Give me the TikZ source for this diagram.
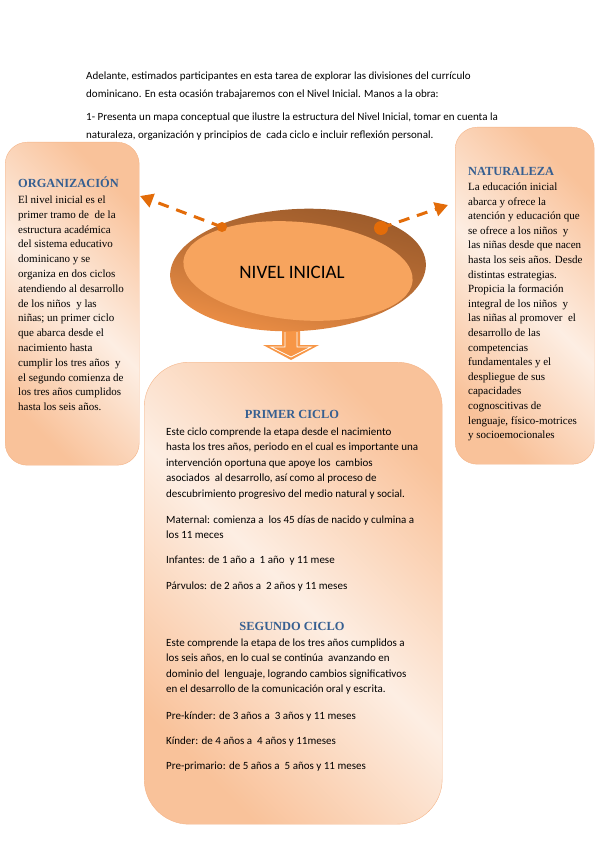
\documentclass[tikz,border=0pt]{standalone}
\usepackage{fontspec}
\setmainfont{Liberation Serif}
\newfontfamily\calib{Carlito}
\usetikzlibrary{arrows.meta,shapes.geometric,calc}
\definecolor{boxorange}{HTML}{F9C29A}
\definecolor{boxlight}{HTML}{FDEEE3}
\definecolor{boxedge}{HTML}{F4B488}
\definecolor{headblue}{HTML}{365F91}
\definecolor{arroworange}{HTML}{E36C09}
\definecolor{discfront}{HTML}{F7A45E}
\definecolor{rimdark}{HTML}{9C5B2B}
\definecolor{rimlight}{HTML}{EF9046}
\definecolor{blockorange}{HTML}{F79646}
\begin{document}
\begin{tikzpicture}[x=1pt,y=-1pt,
  box/.style={draw=boxedge,line width=0.4pt,top color=boxorange,bottom color=boxorange,middle color=boxlight,shading angle=-45,inner sep=0pt,anchor=north west},
  calbody/.style={font=\calib\fontsize{11}{13}\selectfont,inner sep=0pt,anchor=base west},
  serbody/.style={font=\fontsize{11}{13}\selectfont,inner sep=0pt,anchor=base west},
  headtext/.style={font=\bfseries\fontsize{12.4}{14}\selectfont,text=headblue,inner sep=0pt},
  dasharrow/.style={draw=arroworange,line width=3pt,dash pattern=on 11pt off 8pt,-{Triangle[length=13pt,width=14pt]}},
  blockarrow/.style={fill=blockorange,draw=none}
]
\useasboundingbox (0,0) rectangle (595,842);

% intro text
\node[calbody] (intro1) at (86,80) {Adelante, estimados participantes en esta tarea de explorar las divisiones del currículo};
\node[calbody] (intro2) at (86,97.5) {dominicano. En esta ocasión trabajaremos con el Nivel Inicial. Manos a la obra:};
\node[calbody] (task1) at (86,121) {1- Presenta un mapa conceptual que ilustre la estructura del Nivel Inicial, tomar en cuenta la};
\node[calbody] (task2) at (86,138.5) {naturaleza, organización y principios de\ \ cada ciclo e incluir reflexión personal.};

% boxes
\node[box,rounded corners=22pt,minimum width=134pt,minimum height=323pt] (org) at (5,142) {};
\node[box,rounded corners=22pt,minimum width=139pt,minimum height=337pt] (nat) at (455,127) {};
\node[box,rounded corners=45pt,minimum width=298pt,minimum height=462pt] (ciclo) at (144,362) {};

% block arrow down
\coordinate (dn) at (291,360);
\fill[blockarrow] (dn) -- ++(-28,-15) -- ++(19,0) -- ++(0,-27) -- ++(18,0) -- ++(0,27) -- ++(19,0) -- cycle;
\draw[white,line width=0.7pt] ($(dn)+(-6,-28)$) -- ($(dn)+(-6,-13)$) -- ($(dn)+(-20,-13)$) -- ($(dn)+(0,-3)$) -- ($(dn)+(20,-13)$) -- ($(dn)+(6,-13)$) -- ($(dn)+(6,-28)$);

% disc
\shade[top color=rimdark,bottom color=rimlight,middle color=rimdark!60!rimlight,shading angle=-15] (298,270) ellipse [x radius=128, y radius=61, rotate=3];
\fill[discfront] (298,271) ellipse [x radius=115, y radius=49, rotate=-5];
\node[font=\calib\fontsize{19}{22}\selectfont,inner sep=0pt] (nivel) at (292,272) {NIVEL INICIAL};

% dashed arrows
\coordinate (dotL) at (222,227);
\coordinate (tipL) at (140,196);
\coordinate (dotR) at (381,228);
\coordinate (tipR) at (448,205);
\draw[dasharrow] (dotL) -- (tipL);
\draw[dasharrow] (dotR) -- (tipR);
\fill[arroworange] (dotL) circle (5);
\fill[arroworange] (dotR) circle (7);

% ORGANIZACION
\node[headtext,anchor=base west] (orgh) at (18,188) {ORGANIZACIÓN};
\foreach \t [count=\i from 0] in {{El nivel inicial es el},{primer tramo de\ \ de la},{estructura académica},{del sistema educativo},{dominicano y se},{organiza en dos ciclos},{atendiendo al desarrollo},{de los niños\ \ y las},{niñas; un primer ciclo},{que abarca desde el},{nacimiento hasta},{cumplir los tres años\ \ y},{el segundo comienza de},{los tres años cumplidos},{hasta los seis años.}}
  \node[serbody] (org\i) at (18,{203.5+\i*14.8}) {\t};

% NATURALEZA
\node[headtext,anchor=base west] (nath) at (468,175.5) {NATURALEZA};
\foreach \t [count=\i from 0] in {{La educación inicial},{abarca y ofrece la},{atención y educación que},{se ofrece a los niños\ \ y},{las niñas desde que nacen},{hasta los seis años. Desde},{distintas estrategias.},{Propicia la formación},{integral de los niños\ \ y},{las niñas al promover\ \ el},{desarrollo de las},{competencias},{fundamentales y el},{despliegue de sus},{capacidades},{cognoscitivas de},{lenguaje, físico-motrices},{y socioemocionales}}
  \node[serbody] (nat\i) at (468,{190.5+\i*14.6}) {\t};

% PRIMER CICLO
\node[headtext,anchor=base] (primer) at (292,418) {PRIMER CICLO};
\foreach \t [count=\i from 0] in {{Este ciclo comprende la etapa desde el nacimiento},{hasta los tres años, periodo en el cual es importante una},{intervención oportuna que apoye los\ \ cambios},{asociados\ \ al desarrollo, así como al proceso de},{descubrimiento progresivo del medio natural y social.}}
  \node[calbody] (pa\i) at (166,{435+\i*15.5}) {\t};
\node[calbody] (mat1) at (166,523) {Maternal: comienza a\ \ los 45 días de nacido y culmina a};
\node[calbody] (mat2) at (166,538.5) {los 11 meces};
\node[calbody] (inf) at (166,563.5) {Infantes: de 1 año a\ \ 1 año\ \ y 11 mese};
\node[calbody] (par) at (166,589) {Párvulos: de 2 años a\ \ 2 años y 11 meses};

% SEGUNDO CICLO
\node[headtext,anchor=base] (segundo) at (292,630) {SEGUNDO CICLO};
\foreach \t [count=\i from 0] in {{Este comprende la etapa de los tres años cumplidos a},{los seis años, en lo cual se continúa\ \ avanzando en},{dominio del\ \ lenguaje, logrando cambios significativos},{en el desarrollo de la comunicación oral y escrita.}}
  \node[calbody] (sb\i) at (166,{646+\i*15.5}) {\t};
\node[calbody] (prek) at (166,719) {Pre-kínder: de 3 años a\ \ 3 años y 11 meses};
\node[calbody] (kin) at (166,744) {Kínder: de 4 años a\ \ 4 años y 11meses};
\node[calbody] (prep) at (166,769) {Pre-primario: de 5 años a\ \ 5 años y 11 meses};
\end{tikzpicture}
\end{document}
